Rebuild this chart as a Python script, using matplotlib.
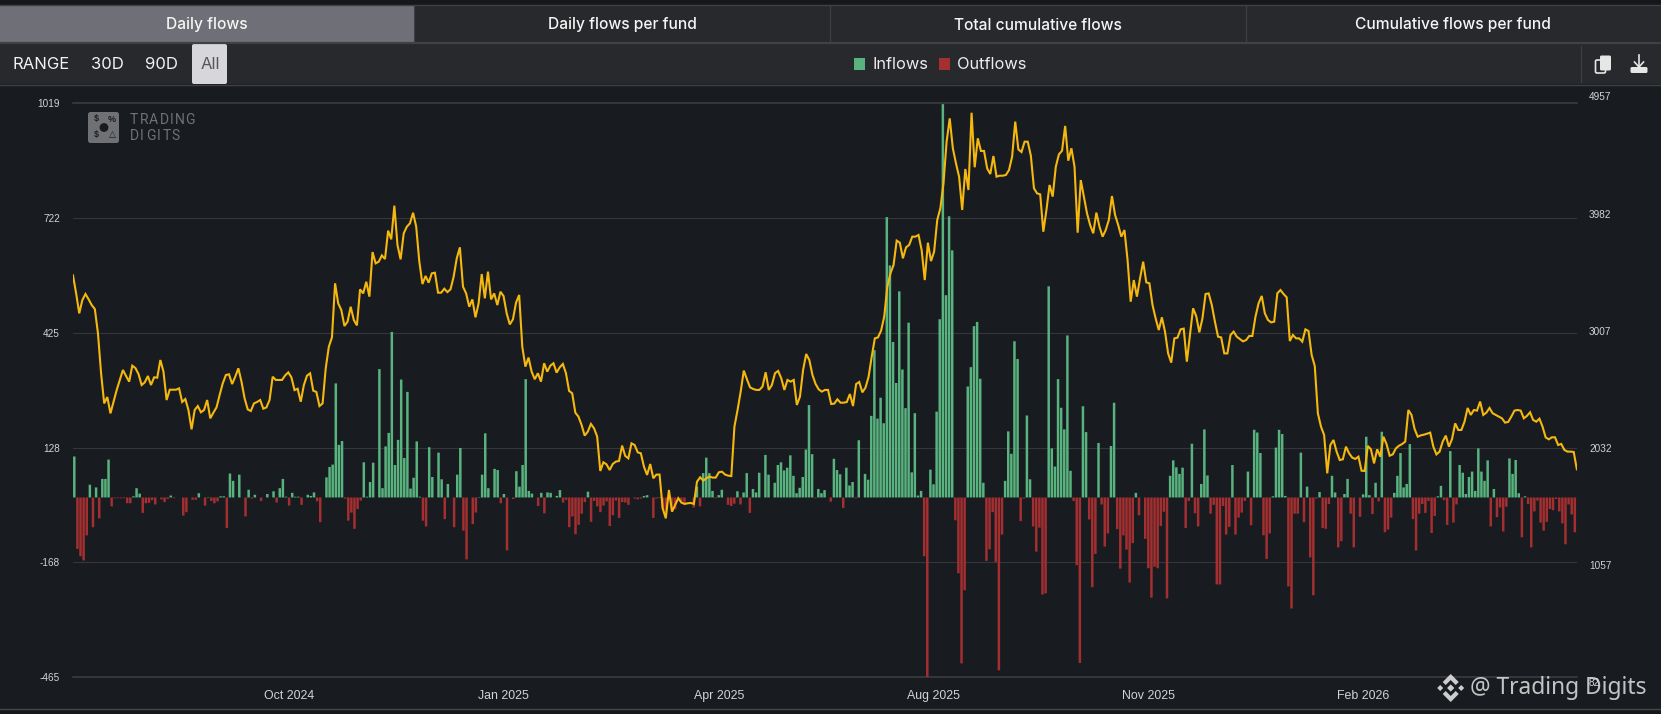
import matplotlib
matplotlib.use("Agg")
import matplotlib.pyplot as plt
from matplotlib.patches import Rectangle, Polygon, FancyBboxPatch, Circle

# ---- data ----
net_flows = [
    106,-133,-152,-163,-98,33,-77,26,-54,48,
    48,98,-23,-2,-2,-2,-2,-15,-15,3,
    24,10,-40,-15,-14,-7,-18,0,-5,-12,
    -4,5,-2,0,0,-47,-38,0,-6,-6,
    11,0,-21,1,-9,-15,-10,3,3,-79,
    62,43,0,59,0,-49,20,-3,7,0,
    -9,0,9,0,16,-13,24,48,2,-21,
    12,2,2,-19,0,7,4,13,-10,-64,
    0,52,79,85,295,136,146,-3,-60,-39,
    -81,-30,-8,91,2,40,90,0,332,24,
    132,167,428,84,149,305,102,273,23,51,
    145,2,-60,-75,130,53,0,116,47,-56,
    35,0,-77,59,128,-86,-160,0,-69,-39,
    1,59,166,24,0,74,71,-15,9,-137,
    0,-4,68,28,84,306,17,10,0,-22,
    12,-41,13,12,0,4,19,-13,-6,-77,
    -49,-95,-71,-42,-12,15,-63,-9,-23,-38,
    -21,-10,-74,-46,-8,-53,-12,-13,-19,0,
    -3,-5,-3,4,6,0,-53,-3,1,-28,
    -40,-6,-36,-30,-6,-10,-15,0,0,-26,
    28,-23,63,103,63,17,-2,6,20,0,
    -19,-22,-16,16,-18,13,63,-40,22,13,
    64,0,110,59,0,38,84,91,70,77,
    109,56,11,25,53,124,239,112,-2,22,
    11,19,0,-11,100,71,60,-27,77,31,
    40,-2,148,0,61,46,211,381,204,258,
    192,725,600,402,296,533,331,231,452,65,
    218,5,17,-152,-465,72,34,222,461,1017,
    523,727,639,-59,-196,-429,-240,287,337,443,
    454,307,38,-164,-134,-38,-167,-447,-96,43,
    171,113,404,358,-61,-3,212,47,-75,-140,
    -78,-251,-248,546,127,80,306,232,176,419,
    69,-9,-175,-428,236,169,-57,-232,-146,141,
    -18,-127,-93,133,245,-82,-184,-98,-135,-220,
    -118,12,-46,0,-107,-183,-259,-179,-183,-74,
    -37,-261,56,96,78,61,77,-79,-9,139,
    -41,-75,35,176,57,-42,-19,-225,-225,-22,
    -96,-76,84,-96,-52,-39,-9,67,-72,175,
    168,115,-98,-159,-93,3,129,175,164,4,
    -230,-287,-42,-42,116,-64,28,-155,-253,-3,
    14,-79,-81,-17,56,13,-129,-113,9,48,
    -42,-129,0,-50,8,157,6,-43,38,-10,
    170,-90,-83,-52,12,56,115,26,35,138,
    -56,-137,-42,-17,-40,-9,-92,-48,3,30,
    -7,-71,120,-65,-18,84,64,9,53,67,
    17,127,67,43,96,-75,22,-51,-26,-88,
    -24,101,61,97,11,-103,3,-17,-129,-36,
    -8,-65,-86,-63,-30,-33,-4,-36,-67,-121,
    -18,-44,-90,
]

cumulative = [
    3468,3319,3152,3263,3313,3269,3221,3188,2986,2653,
    2403,2456,2320,2417,2514,2598,2681,2631,2584,2717,
    2697,2647,2556,2578,2631,2556,2620,2617,2764,2667,
    2431,2517,2517,2517,2528,2415,2439,2348,2187,2348,
    2381,2329,2348,2431,2279,2326,2370,2473,2570,2639,
    2645,2564,2625,2695,2584,2445,2353,2340,2403,2415,
    2431,2359,2370,2431,2625,2598,2598,2598,2636,2661,
    2620,2514,2525,2417,2556,2634,2653,2509,2498,2381,
    2403,2695,2875,2952,3402,3235,3180,3047,3083,3207,
    3097,3052,3352,3318,3415,3291,3662,3568,3582,3634,
    3604,3840,3768,4048,3720,3601,3818,3873,3901,3989,
    3873,3582,3396,3463,3407,3485,3490,3324,3324,3357,
    3329,3352,3457,3610,3701,3374,3318,3207,3268,3119,
    3235,3479,3277,3499,3268,3318,3221,3332,3296,3152,
    3060,3102,3241,3305,2875,2709,2784,2667,2604,2654,
    2584,2737,2667,2717,2737,2659,2703,2731,2654,2507,
    2487,2326,2293,2224,2135,2168,2232,2196,2127,1841,
    1913,1896,1849,1899,1919,1924,2052,1966,1946,2071,
    2057,1996,1988,1877,1808,1899,1780,1811,1811,1530,
    1447,1683,1503,1558,1614,1578,1567,1572,1575,1567,
    1752,1788,1761,1780,1794,1786,1786,1830,1835,1811,
    1802,1799,2210,2348,2501,2676,2604,2537,2523,2515,
    2515,2543,2662,2515,2556,2654,2673,2612,2515,2598,
    2584,2598,2390,2459,2681,2814,2764,2640,2565,2520,
    2501,2515,2515,2398,2401,2437,2409,2409,2414,2481,
    2381,2564,2581,2495,2534,2625,2792,2944,2952,3008,
    3124,3374,3485,3554,3757,3740,3610,3701,3721,3790,
    3790,3804,3679,3429,3740,3587,3665,3929,4026,4234,
    4580,4774,4525,4400,4289,4012,4353,4178,4821,4367,
    4608,4503,4503,4358,4311,4461,4289,4297,4297,4303,
    4344,4455,4747,4516,4494,4580,4580,4464,4192,4150,
    4142,3831,4012,4220,4123,4372,4475,4505,4711,4422,
    4525,4372,3823,4261,4123,3984,3887,3818,3990,3873,
    3790,3845,3929,4128,3970,3887,3790,3845,3596,3249,
    3429,3291,3443,3582,3410,3402,3221,3110,3013,3119,
    3000,2819,2742,2944,2950,3019,3025,2750,2972,3194,
    3130,2994,3110,3313,3318,3221,3083,2958,2952,2819,
    2819,2972,3000,2958,2939,2919,2930,2964,2964,3125,
    3236,3297,3152,3097,3077,3083,3319,3346,3313,3285,
    2922,2972,2944,2944,2917,3019,3005,2806,2714,2320,
    2209,2140,1821,2057,2099,2002,1932,1938,2043,1988,
    1952,1941,1960,1843,1841,2049,2021,1904,2021,1960,
    2126,2065,1968,1979,2029,2051,2065,2085,2348,2307,
    2190,2126,2137,2143,2151,2160,2043,1979,2002,2085,
    2135,2043,2107,2237,2182,2182,2251,2365,2307,2348,
    2343,2418,2307,2326,2365,2321,2307,2293,2279,2243,
    2249,2293,2343,2348,2343,2279,2299,2329,2265,2251,
    2276,2210,2121,2104,2121,2121,2057,2066,2016,2002,
    2002,1999,1855,
]

left_ticks = [1019, 722, 425, 128, -168, -465]
right_ticks = [4957, 3982, 3007, 2032, 1057, 82]
month_positions = [69, 138, 207, 276, 345, 414]
month_labels = ["Oct 2024", "Jan 2025", "Apr 2025", "Aug 2025", "Nov 2025", "Feb 2026"]
tab_labels = ["Daily flows", "Daily flows per fund", "Total cumulative flows", "Cumulative flows per fund"]
range_labels = ["RANGE", "30D", "90D", "All"]

# ---- styling ----
W, H = 1661, 714
BG = "#181b20"
BAR_GREEN = "#58b37f"
BAR_RED = "#a32f30"
LINE = "#f5b80e"
GRID = "#34363a"
TICK = "#d2d3d5"
UI_FONT = ["Inter", "DejaVu Sans"]
AXIS_FONT = ["Liberation Sans", "DejaVu Sans"]

fig = plt.figure(figsize=(W / 100, H / 100), dpi=100, facecolor=BG)


def rect_px(x0, y0, x1, y1):
    return [x0 / W, 1 - y1 / H, (x1 - x0) / W, (y1 - y0) / H]


# ---- page furniture, in pixel coordinates ----
ui = fig.add_axes([0, 0, 1, 1], zorder=0)
ui.set_xlim(0, W)
ui.set_ylim(H, 0)
ui.axis("off")

ui.add_patch(Rectangle((0, 0), W, 5, fc="#15171b", ec="none"))
ui.add_patch(Rectangle((0, 5), W, 38, fc="#28292c", ec="none"))
ui.add_patch(Rectangle((0, 6), 414, 36, fc="#6f7077", ec="none"))
ui.add_patch(Rectangle((0, 43), W, 41, fc="#28292c", ec="none"))
ui.plot([0, W], [5, 5], color="#404145", lw=1)
ui.plot([0, W], [42.5, 42.5], color="#404146", lw=1.6)
ui.plot([0, W], [84.5, 84.5], color="#404145", lw=1)
ui.plot([0, W], [709, 709], color="#46484c", lw=1)
ui.add_patch(Rectangle((0, 709.5), W, 5, fc="#15171b", ec="none"))
for xd in (414, 830, 1245.5):
    ui.plot([xd, xd], [6, 42], color="#404145", lw=0.8)
ui.plot([1581, 1581], [46, 82], color="#404145", lw=0.8)

for xc, s in zip((207, 622, 1038, 1453), tab_labels):
    ui.text(xc, 25, s, ha="center", va="center", fontsize=11.2, color="#f5f5f5",
            family=UI_FONT, fontweight="medium")

ui.add_patch(FancyBboxPatch((192, 44), 35, 40, boxstyle="round,pad=0,rounding_size=2",
                            fc="#d6d6db", ec="none"))
for xc, s in zip((41, 107, 162, 210), range_labels):
    ui.text(xc, 64.5, s, ha="center", va="center", fontsize=12,
            color="#55565a" if s == "All" else "#f2f2f2", family=UI_FONT)

ui.add_patch(Rectangle((854, 58), 11, 12, fc=BAR_GREEN, ec="none"))
ui.text(872, 64.5, "Inflows", ha="left", va="center", fontsize=11.8, color="#ececec", family=UI_FONT)
ui.add_patch(Rectangle((939, 58), 11, 12, fc=BAR_RED, ec="none"))
ui.text(957, 64.5, "Outflows", ha="left", va="center", fontsize=11.8, color="#ececec", family=UI_FONT)

# copy icon
ui.add_patch(FancyBboxPatch((1595.5, 60), 10, 13, boxstyle="round,pad=0,rounding_size=1.5",
                            fc="#28292c", ec="#e6e6e6", lw=1.2))
ui.add_patch(FancyBboxPatch((1600, 55.5), 11, 15, boxstyle="round,pad=0,rounding_size=1.5",
                            fc="#e6e6e6", ec="none"))
# download icon
ui.plot([1639, 1639], [55, 66], color="#e6e6e6", lw=1.2)
ui.plot([1634.5, 1639, 1643.5], [62, 67, 62], color="#e6e6e6", lw=1.2)
ui.add_patch(FancyBboxPatch((1630.5, 67), 17, 6, boxstyle="round,pad=0,rounding_size=1.5",
                            fc="#e6e6e6", ec="none"))

# chart logo
ui.add_patch(FancyBboxPatch((88, 112), 31, 31, boxstyle="round,pad=0,rounding_size=2.5",
                            fc="#6f7175", ec="none"))
ui.add_patch(Circle((104, 127.5), 4.4, fc="#181b20", ec="none"))
for lx, ly, s in ((96, 119, "$"), (112, 119, "%"), (96, 135, "$"), (112, 135, "△")):
    ui.text(lx, ly, s, ha="center", va="center", fontsize=6.5, color="#1c1e22",
            family=AXIS_FONT if s != "△" else ["DejaVu Sans"], fontweight="bold")
for c, xl in zip("TRADING", (129.5, 139.5, 149, 159.5, 169.5, 174.5, 185.5)):
    ui.text(xl, 119.5, c, ha="left", va="center", fontsize=10, color="#707276", family=["Roboto"])
for c, xl in zip("DIGITS", (129.5, 140, 146, 156.5, 162.5, 171.5)):
    ui.text(xl, 136.5, c, ha="left", va="center", fontsize=10, color="#707276", family=["Roboto"])

# ---- daily flow bars ----
days = list(range(len(net_flows)))
in_x = [d for d, v in zip(days, net_flows) if v > 0]
in_v = [v for v in net_flows if v > 0]
out_x = [d for d, v in zip(days, net_flows) if v < 0]
out_v = [v for v in net_flows if v < 0]

ax = fig.add_axes(rect_px(73, 103.4, 1577, 677.3), zorder=1)
ax.patch.set_alpha(0)
in_bars = ax.bar(in_x, in_v, width=0.8, color=BAR_GREEN, linewidth=0, zorder=3, label="Inflows")
out_bars = ax.bar(out_x, out_v, width=0.8, color=BAR_RED, linewidth=0, zorder=3, label="Outflows")
for b in list(in_bars) + list(out_bars):
    b.set_snap(False)
ax.set_xlim(-0.418, 482.7)
ax.set_ylim(-465, 1019)
ax.set_yticks(left_ticks)
ax.set_yticklabels([str(v) for v in left_ticks], fontsize=7.2, color=TICK, family=AXIS_FONT)
ax.set_xticks(month_positions)
ax.set_xticklabels(month_labels, fontsize=8.9, color=TICK, family=AXIS_FONT)
ax.tick_params(axis="y", length=0, pad=9.4)
ax.tick_params(axis="x", length=0, pad=9.5)
ax.grid(axis="y", color=GRID, lw=0.8, zorder=0)
for s in ax.spines.values():
    s.set_visible(False)
for yl in (1019, -465):
    ax.axhline(yl, color="#3e4044", lw=1.1, zorder=1, clip_on=False)

# ---- cumulative line, on its own right-hand scale ----
ax2 = fig.add_axes(rect_px(73, 90, 1577, 690), zorder=2)
ax2.patch.set_alpha(0)
ax2.plot(days, cumulative, color=LINE, lw=1.5, solid_joinstyle="miter", zorder=4)
ax2.set_xlim(0, 482.05)
ax2.set_ylim(19, 5010)
ax2.set_xticks([])
ax2.yaxis.tick_right()
ax2.set_yticks(right_ticks)
ax2.set_yticklabels([str(v) for v in right_ticks], fontsize=7.2, color=TICK, family=AXIS_FONT)
ax2.tick_params(axis="y", length=0, pad=8.6)
for s in ax2.spines.values():
    s.set_visible(False)

# ---- watermark ----
wm = fig.add_axes([0, 0, 1, 1], zorder=5)
wm.set_xlim(0, W)
wm.set_ylim(H, 0)
wm.axis("off")
cx, cy = 1450.7, 688
WM = "#e2e2e2"
wm.add_patch(Polygon([(cx - 3.6, cy), (cx, cy - 3.6), (cx + 3.6, cy), (cx, cy + 3.6)], fc=WM, ec="none", alpha=0.9))
wm.add_patch(Polygon([(cx - 13.5, cy), (cx - 10.5, cy - 3), (cx - 7.5, cy), (cx - 10.5, cy + 3)], fc=WM, ec="none", alpha=0.9))
wm.add_patch(Polygon([(cx + 13.5, cy), (cx + 10.5, cy - 3), (cx + 7.5, cy), (cx + 10.5, cy + 3)], fc=WM, ec="none", alpha=0.9))
wm.add_patch(Polygon([(cx, cy - 14), (cx + 8, cy - 6), (cx + 5, cy - 3), (cx, cy - 8), (cx - 5, cy - 3), (cx - 8, cy - 6)], fc=WM, ec="none", alpha=0.9))
wm.add_patch(Polygon([(cx, cy + 14), (cx + 8, cy + 6), (cx + 5, cy + 3), (cx, cy + 8), (cx - 5, cy + 3), (cx - 8, cy + 6)], fc=WM, ec="none", alpha=0.9))
wm.text(1470, 688, "@ Trading Digits", ha="left", va="center", fontsize=16.4, color=WM, alpha=0.85, family=["Noto Sans"])

fig.savefig("out.png", dpi=100, facecolor=fig.get_facecolor())
